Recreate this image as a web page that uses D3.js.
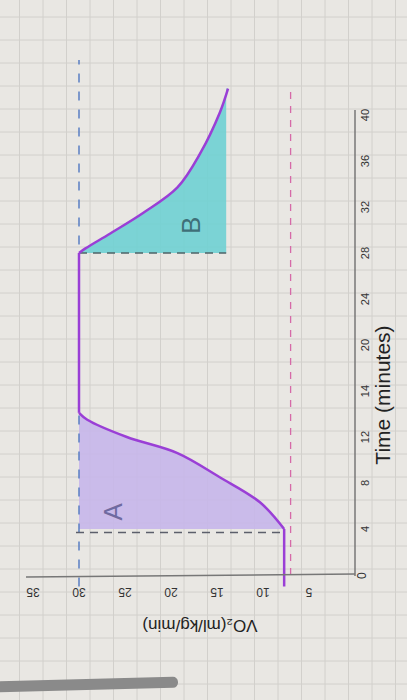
<!DOCTYPE html>
<html><head><meta charset="utf-8">
<script src="https://cdn.jsdelivr.net/npm/d3@7"></script>
<style>body{margin:0;background:#e9e7e3;}svg{display:block;}</style>
</head><body>
<svg id="chart" width="407" height="700"></svg>
<script>
// VO2 vs time, photographed sideways: time runs upward, VO2 grows to the left
const timeTicks = [0, 4, 8, 12, 16, 20, 24, 28, 32, 36, 40];
const timeLabels = ["", "4", "8", "12", "14", "20", "24", "28", "32", "36", "40"];
const vo2Ticks = [0, 5, 10, 15, 20, 25, 30, 35];
const restVO2 = 7.7;
const steadyVO2 = 30;
const baselineVO2 = 7;
const endB = 14;
const riseCurve = [[4, 7.7], [6.3, 10.3], [8.5, 14.7], [10.6, 19.3], [12, 24.8], [13.5, 29.1], [14.1, 30]];
const recoveryCurve = [[28, 30], [28.4, 29.3], [29.7, 26.6], [31.5, 23], [33.7, 19.3], [36.7, 16.8], [40.2, 14.7], [42.3, 13.8]];

const svg = d3.select("#chart");
const t = d3.scaleLinear().domain([0, 40]).range([575, 115]);
const v = d3.scaleLinear().domain([0, 35]).range([355, 33]);

// graph paper
const grid = svg.append("g").attr("stroke", "#d2d0cc").attr("stroke-width", 1);
d3.range(-4, 420, 23.5).forEach(x => grid.append("line").attr("x1", x).attr("x2", x).attr("y1", 0).attr("y2", 700));
d3.range(-6, 700, 23).forEach(y => grid.append("line").attr("x1", 0).attr("x2", 407).attr("y1", y).attr("y2", y));

const pt = d => [v(d[1]), t(d[0])];
const line = d3.line().x(d => pt(d)[0]).y(d => pt(d)[1]).curve(d3.curveCatmullRom);

// area A
svg.append("path")
  .attr("d", d3.line().curve(d3.curveCatmullRom)([...riseCurve.map(pt)]) + `L${v(steadyVO2)},${t(4)}Z`)
  .attr("fill", "#c6b6ea").attr("opacity", 0.9);
// area B
svg.append("path")
  .attr("d", d3.line().curve(d3.curveCatmullRom)([...recoveryCurve.map(pt)]) + `L${v(endB)},${t(42.3)}L${v(endB)},${t(28)}Z`)
  .attr("fill", "#6fd0d3").attr("opacity", 0.9);

// reference dashes
svg.append("line").attr("x1", v(steadyVO2)).attr("x2", v(steadyVO2)).attr("y1", t(-1)).attr("y2", 60)
  .attr("stroke", "#5a7fc4").attr("stroke-width", 1.5).attr("stroke-dasharray", "9,9");
svg.append("line").attr("x1", v(baselineVO2)).attr("x2", v(baselineVO2)).attr("y1", t(0)).attr("y2", 88)
  .attr("stroke", "#d66aa8").attr("stroke-width", 1.3).attr("stroke-dasharray", "7,7");
svg.append("line").attr("x1", v(steadyVO2) - 3).attr("x2", v(restVO2)).attr("y1", t(3.7)).attr("y2", t(3.7))
  .attr("stroke", "#5c5f6b").attr("stroke-width", 1.5).attr("stroke-dasharray", "8,6");
svg.append("line").attr("x1", v(steadyVO2)).attr("x2", v(endB)).attr("y1", t(28)).attr("y2", t(28))
  .attr("stroke", "#4f6468").attr("stroke-width", 1.5).attr("stroke-dasharray", "8,6");

// VO2 curve
const curveStyle = s => s.attr("fill", "none").attr("stroke", "#9a3fd6").attr("stroke-width", 2.5);
svg.append("line").attr("x1", v(restVO2)).attr("x2", v(restVO2)).attr("y1", t(-1)).attr("y2", t(4)).call(curveStyle);
svg.append("path").attr("d", line(riseCurve)).call(curveStyle);
svg.append("line").attr("x1", v(steadyVO2)).attr("x2", v(steadyVO2)).attr("y1", t(14.1)).attr("y2", t(28)).call(curveStyle);
svg.append("path").attr("d", line(recoveryCurve)).call(curveStyle);

// axes
svg.append("line").attr("x1", 355).attr("x2", 355).attr("y1", 576).attr("y2", 110).attr("stroke", "#777").attr("stroke-width", 1.5);
svg.append("line").attr("x1", 26).attr("x2", 355).attr("y1", 577).attr("y2", 574).attr("stroke", "#777").attr("stroke-width", 1.5);

const hand = "'Liberation Sans', sans-serif";
timeTicks.forEach((d, i) => {
  svg.append("text").attr("transform", `translate(369,${t(d)}) rotate(-90)`)
    .attr("text-anchor", "middle").attr("font-family", hand).attr("font-size", 11).attr("fill", "#333")
    .text(timeLabels[i]);
});
svg.append("text").attr("transform", `translate(357,${t(0)}) rotate(-90)`).attr("dy", "0.35em")
  .attr("x", -4).attr("y", 5).attr("font-family", hand).attr("font-size", 12).attr("fill", "#333").text("0");
vo2Ticks.filter(d => d > 0).forEach(d => {
  svg.append("text").attr("transform", `translate(${v(d)},588) rotate(180)`)
    .attr("text-anchor", "middle").attr("font-family", hand).attr("font-size", 12).attr("fill", "#333")
    .text(d);
});
svg.append("text").attr("transform", "translate(390,395) rotate(-90)").attr("text-anchor", "middle")
  .attr("font-family", hand).attr("font-size", 21).attr("fill", "#222").text("Time (minutes)");
svg.append("text").attr("transform", "translate(200,620) rotate(180)").attr("text-anchor", "middle")
  .attr("font-family", hand).attr("font-size", 17).attr("fill", "#222").text("VO₂(ml/kg/min)");
svg.append("text").attr("transform", `translate(${v(25.3)},${t(5.5)}) rotate(-90)`).attr("text-anchor", "middle")
  .attr("font-family", hand).attr("font-size", 26).attr("fill", "#6f6aa0").text("A");
svg.append("text").attr("transform", `translate(${v(16.8)},${t(30.4)}) rotate(-90)`).attr("text-anchor", "middle")
  .attr("font-family", hand).attr("font-size", 26).attr("fill", "#3f6f78").text("B");

svg.append("rect").attr("x", -10).attr("y", 679).attr("width", 188).attr("height", 11).attr("rx", 5)
  .attr("fill", "#8a8a8a").attr("transform", "rotate(-1.5,90,684)");
</script>
</body></html>
